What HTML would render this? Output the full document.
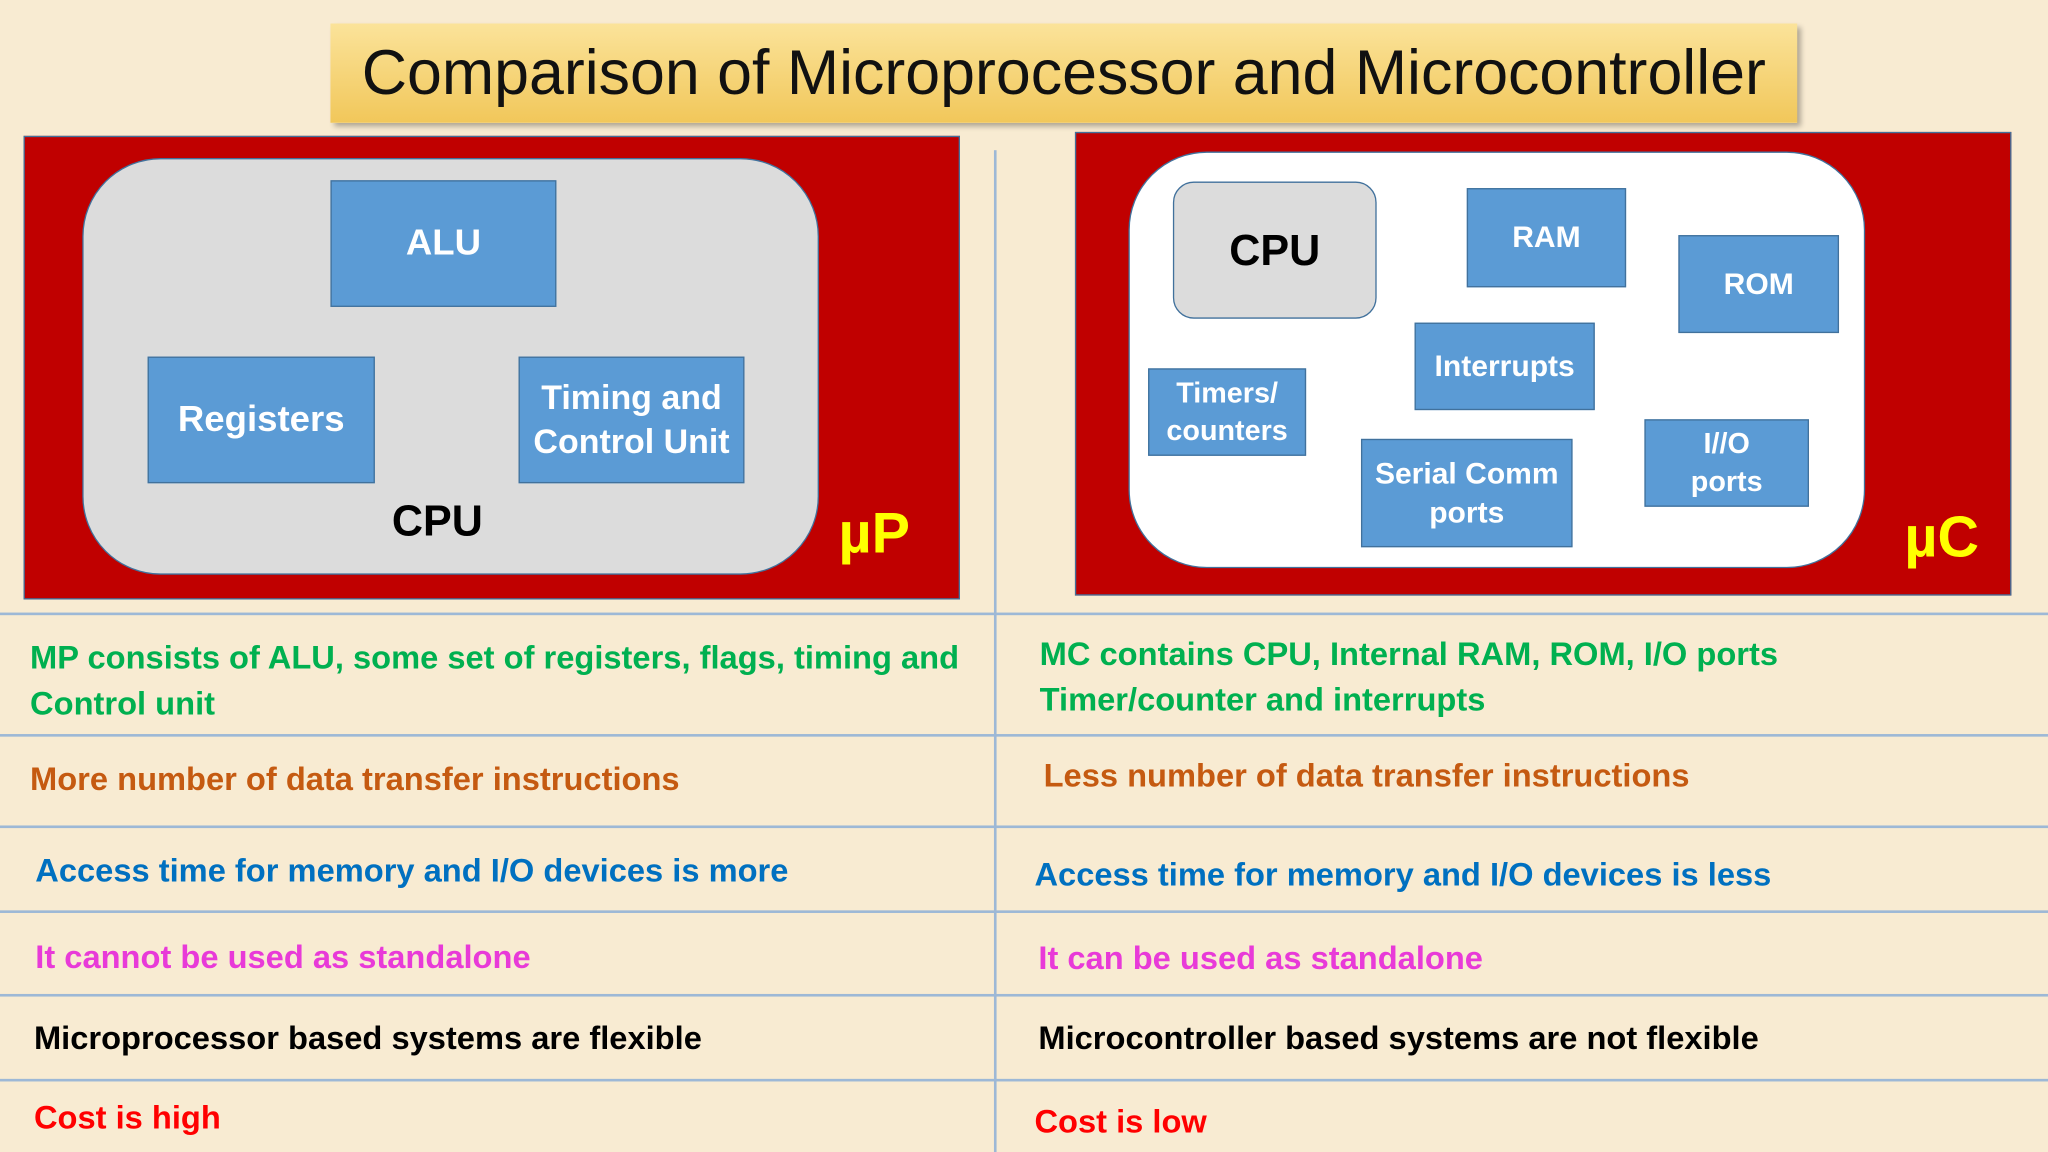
<!DOCTYPE html>
<html><head><meta charset="utf-8"><style>
html,body{margin:0;padding:0;width:2048px;height:1152px;overflow:hidden;background:#f8ebd2;}
#stage{position:absolute;left:0;top:0;width:1568px;height:882px;transform:scale(1.306122);transform-origin:0 0;background:#f8ebd2;font-family:"Liberation Sans",sans-serif;}
.abs{position:absolute;}
.blue{position:absolute;background:#5b9bd5;border:1.5px solid #41719c;color:#fff;font-weight:bold;display:flex;align-items:center;justify-content:center;text-align:center;box-sizing:border-box;line-height:1.3;}
.row{position:absolute;font-size:25px;font-weight:bold;white-space:nowrap;line-height:35px;}
.hl{position:absolute;height:1.5px;background:#9db8d6;}
</style></head><body>
<div id="stage">
<div class="abs" style="left:253px;top:18px;width:1123px;height:76px;background:linear-gradient(#fbe39a,#f1c75a);box-shadow:3px 3px 4px rgba(0,0,0,.3);display:flex;align-items:center;justify-content:center;font-size:48px;color:#111;">Comparison of Microprocessor and Microcontroller</div>

<div class="abs" style="left:18px;top:104px;width:717px;height:355px;background:#c00000;border:1.5px solid #41719c;box-sizing:border-box;"></div>
<div class="abs" style="left:63px;top:121px;width:564px;height:319px;background:#dcdcdc;border:1.5px solid #41719c;border-radius:60px;box-sizing:border-box;"></div>
<div class="blue" style="left:253px;top:138px;width:173px;height:97px;font-size:28px;">ALU</div>
<div class="blue" style="left:113px;top:273px;width:174px;height:97px;font-size:28px;">Registers</div>
<div class="blue" style="left:397px;top:273px;width:173px;height:97px;font-size:26px;">Timing and<br>Control Unit</div>
<div class="abs" style="left:300px;top:380px;font-size:33px;font-weight:bold;color:#000;">CPU</div>
<div class="abs" style="left:642px;top:384px;font-size:44px;font-weight:bold;color:#ffff00;">µP</div>

<div class="abs" style="left:823px;top:101px;width:717px;height:355px;background:#c00000;border:1.5px solid #41719c;box-sizing:border-box;"></div>
<div class="abs" style="left:864px;top:116px;width:564px;height:319px;background:#fff;border:1.5px solid #41719c;border-radius:60px;box-sizing:border-box;"></div>
<div class="abs" style="left:898px;top:139px;width:156px;height:105px;background:#dcdcdc;border:1.5px solid #41719c;border-radius:16px;box-sizing:border-box;display:flex;align-items:center;justify-content:center;font-size:33px;font-weight:bold;">CPU</div>
<div class="blue" style="left:1123px;top:144px;width:122px;height:76px;font-size:23px;">RAM</div>
<div class="blue" style="left:1285px;top:180px;width:123px;height:75px;font-size:23px;">ROM</div>
<div class="blue" style="left:1083px;top:247px;width:138px;height:67px;font-size:23px;">Interrupts</div>
<div class="blue" style="left:879px;top:282px;width:121px;height:67px;font-size:22px;">Timers/<br>counters</div>
<div class="blue" style="left:1042px;top:336px;width:162px;height:83px;font-size:23px;">Serial Comm<br>ports</div>
<div class="blue" style="left:1259px;top:321px;width:126px;height:67px;font-size:22px;">I//O<br>ports</div>
<div class="abs" style="left:1458px;top:387px;font-size:44px;font-weight:bold;color:#ffff00;">µC</div>

<div class="abs" style="left:761px;top:115px;width:1.5px;height:767px;background:#9db8d6;"></div>
<div class="hl" style="left:0;top:469px;width:1568px;"></div>
<div class="hl" style="left:0;top:562px;width:1568px;"></div>
<div class="hl" style="left:0;top:632px;width:1568px;"></div>
<div class="hl" style="left:0;top:697px;width:1568px;"></div>
<div class="hl" style="left:0;top:761px;width:1568px;"></div>
<div class="hl" style="left:0;top:826px;width:1568px;"></div>

<div class="row" style="left:23px;top:487px;color:#00b050;">MP consists of ALU, some set of registers, flags, timing and<br>Control unit</div>
<div class="row" style="left:796px;top:484px;color:#00b050;">MC contains CPU, Internal RAM, ROM, I/O ports<br>Timer/counter and interrupts</div>
<div class="row" style="left:23px;top:580px;color:#c55a11;">More number of data transfer instructions</div>
<div class="row" style="left:799px;top:577px;color:#c55a11;">Less number of data transfer instructions</div>
<div class="row" style="left:27px;top:650px;color:#0070c0;">Access time for memory and I/O devices is more</div>
<div class="row" style="left:792px;top:653px;color:#0070c0;">Access time for memory and I/O devices is less</div>
<div class="row" style="left:27px;top:716px;color:#e83ad8;">It cannot be used as standalone</div>
<div class="row" style="left:795px;top:717px;color:#e83ad8;">It can be used as standalone</div>
<div class="row" style="left:26px;top:778px;color:#000;">Microprocessor based systems are flexible</div>
<div class="row" style="left:795px;top:778px;color:#000;">Microcontroller based systems are not flexible</div>
<div class="row" style="left:26px;top:839px;color:#ff0000;">Cost is high</div>
<div class="row" style="left:792px;top:842px;color:#ff0000;">Cost is low</div>
</div>
</body></html>
